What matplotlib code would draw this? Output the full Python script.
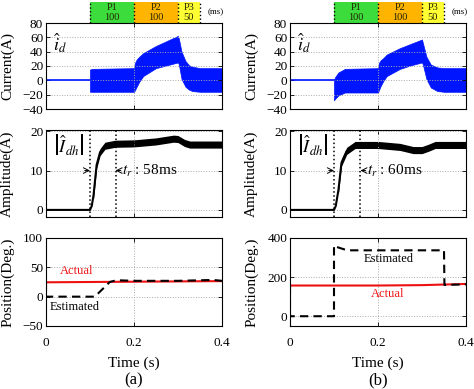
import numpy as np
import matplotlib
matplotlib.use('Agg')
import matplotlib.pyplot as plt

plt.rcParams['font.family'] = ['Liberation Serif', 'DejaVu Serif']
plt.rcParams['mathtext.fontset'] = 'stix'

# phase bar (s) and durations (ms)
phase_names = ['P1', 'P2', 'P3']
phase_start = [0.1, 0.2, 0.3]
phase_end = [0.2, 0.3, 0.35]
phase_ms = ['100', '100', '50']
phase_colors = ['#3ddc3d', '#ffb400', '#ffff33']

# current envelope, case (a)
cur_t_a = [0.1, 0.105, 0.2, 0.202, 0.206, 0.212, 0.221, 0.25, 0.275, 0.3, 0.302, 0.308, 0.317, 0.325, 0.333, 0.35, 0.4]
cur_up_a = [15, 16, 17, 24, 29, 33, 38, 48, 55, 62, 58, 40, 27, 21, 19, 17, 17]
cur_lo_a = [-16, -16, -16, -14, -9, -2, 6, 17, 21, 25, 22, 2, -9, -13, -15, -16, -16]
# current envelope, case (b)
cur_t_b = [0.1, 0.102, 0.11, 0.125, 0.2, 0.202, 0.206, 0.212, 0.22, 0.25, 0.275, 0.3, 0.302, 0.31, 0.32, 0.335, 0.35, 0.4]
cur_up_b = [0, 4, 11, 16, 17, 24, 28, 31, 36, 45, 51, 57, 52, 33, 22, 18, 17, 17]
cur_lo_b = [-28, -26, -21, -17, -17, -14, -8, -1, 6, 16, 21, 25, 22, 2, -10, -15, -16, -16]

# amplitude |I_dh| (centre of the thick trace)
amp_t_a = [0, 0.1, 0.104, 0.108, 0.115, 0.123, 0.134, 0.157, 0.2, 0.25, 0.29, 0.3, 0.315, 0.327, 0.4]
amp_a = [0, 0, 1.0, 3.7, 11.4, 14.7, 16.3, 16.8, 16.9, 17.4, 18.1, 18.0, 17.0, 16.6, 16.6]
amp_t_b = [0, 0.1, 0.104, 0.11, 0.117, 0.129, 0.148, 0.2, 0.25, 0.28, 0.3, 0.315, 0.33, 0.4]
amp_b = [0, 0, 1.0, 5.0, 12.0, 15.0, 16.5, 16.5, 16.0, 15.2, 15.2, 15.8, 16.5, 16.5]
rise_a = [0.1, 0.158]
rise_b = [0.1, 0.16]
rise_txt = ['58ms', '60ms']

# position (deg)
pos_t_act_a = [0, 0.2, 0.4]
pos_act_a = [24.5, 25.5, 26.5]
pos_t_est_a = [0, 0, 0.111, 0.145, 0.16, 0.2, 0.3, 0.38, 0.4]
pos_est_a = [25, 0, 0, 25, 28, 27, 27, 28.5, 27]
pos_t_act_b = [0, 0.2, 0.3, 0.4]
pos_act_b = [157, 157, 159, 165]
pos_t_est_b = [0, 0, 0.1, 0.1, 0.105, 0.13, 0.35, 0.351, 0.4]
pos_est_b = [157, 0, 0, 362, 355, 337, 337, 160, 163]

W, H = 474, 389
fig = plt.figure(figsize=(W / 100, H / 100), dpi=100)


def rect(x0, top, x1, bottom):
    return [x0 / W, 1 - bottom / H, (x1 - x0) / W, (bottom - top) / H]


def style(ax):
    ax.set_xlim(0, 0.4)
    ax.tick_params(direction='in', length=3, width=0.6, labelsize=9.5, pad=2,
                   top=True, right=True)
    ax.grid(True, linestyle=':', color='#aaaaaa', linewidth=0.7)
    ax.set_xticks([0, 0.2, 0.4])
    for s in ax.spines.values():
        s.set_linewidth(0.8)


cases = [
    (46, 222, cur_t_a, cur_up_a, cur_lo_a, amp_t_a, amp_a, rise_a, rise_txt[0],
     pos_t_act_a, pos_act_a, pos_t_est_a, pos_est_a, '(a)'),
    (290, 466, cur_t_b, cur_up_b, cur_lo_b, amp_t_b, amp_b, rise_b, rise_txt[1],
     pos_t_act_b, pos_act_b, pos_t_est_b, pos_est_b, '(b)'),
]

for k, (xl, xr, ct, cu, cl, at, av, rise, rt, pta, pa, pte, pe, tag) in enumerate(cases):
    # phase bar
    axp = fig.add_axes(rect(xl, 2, xr, 23))
    axp.set_xlim(0, 0.4)
    axp.set_ylim(0, 1)
    axp.axis('off')
    for name, s, e, ms, c in zip(phase_names, phase_start, phase_end, phase_ms, phase_colors):
        axp.axvspan(s, e, color=c, lw=0)
        axp.text((s + e) / 2, 0.74, name, ha='center', va='center', fontsize=7.5, color='#222200')
        axp.text((s + e) / 2, 0.26, ms, ha='center', va='center', fontsize=7.5, color='#222200')
    for b in phase_start + [phase_end[-1]]:
        axp.axvline(b, color='k', ls=':', lw=1.0)
    axp.text(0.385, 0.5, '(ms)', ha='center', va='center', fontsize=6.5)

    # current
    ax1 = fig.add_axes(rect(xl, 23, xr, 109))
    style(ax1)
    ax1.plot([0, ct[0]], [0, 0], color='#0015ff', lw=1.2)
    ax1.fill_between(ct, cl, cu, color='#0015ff', lw=0.5, edgecolor='#0015ff')
    ax1.set_ylim(-40, 80)
    ax1.set_yticks([-40, -20, 0, 20, 40, 60, 80])
    ax1.set_xticklabels([])
    ax1.set_ylabel('Current(A)', fontsize=11)
    ax1.yaxis.set_label_coords(-0.18, 0.5)
    ax1.text(0.04, 0.76, r'$\hat{i}_d$', transform=ax1.transAxes, fontsize=13, va='center')

    # amplitude
    ax2 = fig.add_axes(rect(xl, 130, xr, 217))
    style(ax2)
    av = np.array(av)
    ax2.plot(at, av, color='k', lw=1.5)
    ax2.fill_between(at[3:], av[3:] - 0.9, av[3:] + 0.9, color='k', lw=0)
    ax2.set_ylim(-1.8, 20.3)
    ax2.set_yticks([0, 10, 20])
    ax2.set_xticklabels([])
    ax2.set_ylabel('Amplitude(A)', fontsize=11)
    ax2.yaxis.set_label_coords(-0.18, 0.5)
    for r in rise:
        ax2.axvline(r, color='k', ls=':', lw=1.1)
    ax2.annotate('', xy=(rise[0], 10), xytext=(rise[0] - 0.012, 10),
                 arrowprops=dict(arrowstyle='->', lw=0.7, shrinkA=0, shrinkB=0))
    ax2.annotate('', xy=(rise[1], 10), xytext=(rise[1] + 0.012, 10),
                 arrowprops=dict(arrowstyle='->', lw=0.7, shrinkA=0, shrinkB=0))
    ax2.text(rise[1] + 0.014, 10, r'$t_r$ : ' + rt, fontsize=11, va='center')
    ax2.text(0.015, 16.5, r'$\left|\hat{I}_{dh}\right|$', fontsize=13, va='center')

    # position
    ax3 = fig.add_axes(rect(xl, 238, xr, 326))
    style(ax3)
    ax3.plot(pta, pa, color='#ee1111', lw=1.5)
    ax3.plot(pte, pe, color='k', lw=1.5, ls=(0, (4, 2.5)))
    ax3.set_ylabel('Position(Deg.)', fontsize=11)
    ax3.yaxis.set_label_coords(-0.18, 0.5)
    ax3.set_xticklabels(['0', '0.2', '0.4'])
    ax3.tick_params(axis='x', pad=8)
    ax3.set_xlabel('Time (s)', fontsize=11, labelpad=5)
    if k == 0:
        ax3.set_ylim(-50, 100)
        ax3.set_yticks([-50, 0, 50, 100])
        ax3.text(0.07, 44, 'Actual', color='#ee1111', fontsize=9, ha='center', va='center')
        ax3.text(0.065, -17, 'Estimated', color='k', fontsize=9, ha='center', va='center')
    else:
        ax3.set_ylim(-50, 400)
        ax3.set_yticks([0, 200, 400])
        ax3.text(0.222, 115, 'Actual', color='#ee1111', fontsize=9, ha='center', va='center')
        ax3.text(0.224, 294, 'Estimated', color='k', fontsize=9, ha='center', va='center')
    ax3.text(0.5, -0.62, tag, transform=ax3.transAxes, fontsize=12, ha='center', va='center')

fig.savefig('out.png', dpi=100)
